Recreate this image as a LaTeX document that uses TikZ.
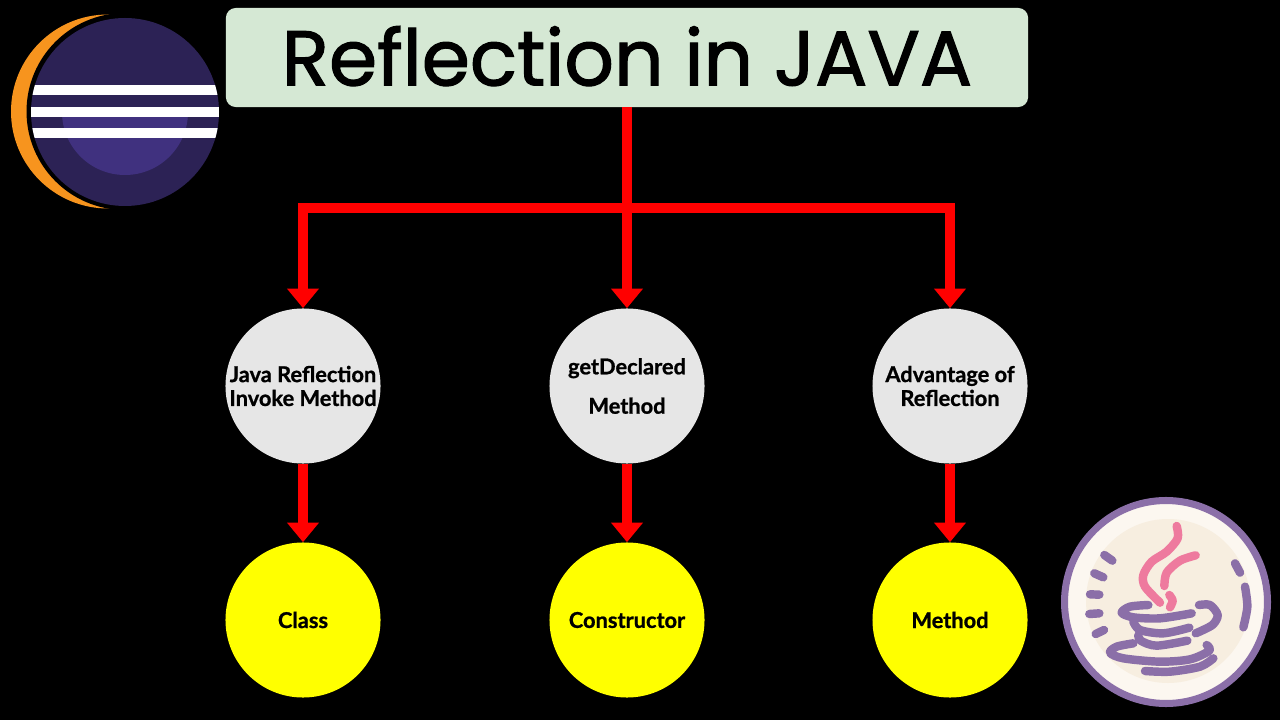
\documentclass[tikz,border=0pt]{standalone}
\usepackage{fontspec}
\setmainfont{Lato}[BoldFeatures={FakeBold=1}]
\newfontfamily\titlefont[FakeBold=1.5,Ligatures=NoCommon]{Poppins}
\usetikzlibrary{arrows.meta}
\definecolor{titlegreen}{HTML}{D5E8D4}
\definecolor{lightgrey}{HTML}{E6E6E6}
\definecolor{arrowred}{HTML}{FF0000}
\definecolor{leafyellow}{HTML}{FFFF00}
\definecolor{sunorange}{HTML}{F7941E}
\definecolor{planetdark}{HTML}{2C2255}
\definecolor{planetlight}{HTML}{40317F}
\definecolor{cupring}{HTML}{8B6FA8}
\definecolor{cupcream}{HTML}{FCF7F0}
\definecolor{cupinner}{HTML}{F7EEE0}
\definecolor{cuppink}{HTML}{EE7A9E}
\tikzset{
	x=0.025cm, y=-0.025cm,
	redline/.style={draw=arrowred, line width=7.5pt},
	redarrow/.style={redline, -{Triangle[length=14pt, width=22pt]}},
	topic/.style={circle, fill=lightgrey, minimum size=3.875cm, inner sep=0pt, align=center, font=\fontsize{15.5}{17}\selectfont\bfseries},
	leaf/.style={topic, fill=leafyellow},
	stroke/.style={line width=6pt, line cap=round, line join=round},
	cupline/.style={stroke, draw=cupring},
	steamline/.style={stroke, draw=cuppink},
}

\begin{document}
\begin{tikzpicture}
		%%%%% START %%%%%
		
		\useasboundingbox (0, 0) rectangle (1280, 720);
		\fill[black] (0, 0) rectangle (1280, 720);
		
		% nodes
		\node[fill=titlegreen, rounded corners=7pt, minimum width=20.05cm, minimum height=2.475cm, inner sep=0pt, font=\fontsize{55.2}{60}\selectfont\titlefont] (title) at (627, 57.5) {\raisebox{2.5pt}{Reflection in JAVA}};
		
		\node[topic] (invoke) at (303, 386) {Java Reflection\\Invoke Method};
		\node[topic] (declared) at (627, 386) {getDeclared\\[11pt]Method};
		\node[topic] (advantage) at (950, 386) {Advantage of\\Reflection};
		
		\node[leaf] (class) at (303, 620) {Class};
		\node[leaf] (constructor) at (627, 620) {Constructor};
		\node[leaf] (method) at (950, 620) {Method};
		
		% connectors
		\coordinate (hub) at (627, 208);
		\draw[redline] (title.south) -- (hub);
		\draw[redarrow] (hub) -| (invoke.north);
		\draw[redarrow] (hub) -- (declared.north);
		\draw[redarrow] (hub) -| (advantage.north);
		
		\draw[redarrow] (invoke) -- (class);
		\draw[redarrow] (declared) -- (constructor);
		\draw[redarrow] (advantage) -- (method);
		
		% eclipse logo
		\fill[sunorange] (108, 111.5) circle (97);
		\fill[black] (125, 111.5) circle (98.5);
		\fill[planetdark] (125, 112) circle (94);
		\begin{scope}
			\clip (0, 118) rectangle (240, 220);
			\fill[planetlight] (125, 112) circle (63);
		\end{scope}
		\begin{scope}
			\clip (125, 112) circle (94);
			\fill[white] (20, 85) rectangle (230, 95);
			\fill[white] (20, 107) rectangle (230, 117);
			\fill[white] (20, 128) rectangle (230, 138);
		\end{scope}
		
		% java logo
		\draw[cupring, line width=5pt, fill=cupcream] (1166, 602) circle (101.5);
		\fill[cupinner] (1168, 601) circle (82);
		\begin{scope}[shift={(1050, 490)}, x=0.025cm/3, y=-0.025cm/3]
			\draw[steamline] plot[smooth] coordinates {(380,108) (383,145) (350,185) (305,215) (280,255) (285,290) (330,338)};
			\draw[steamline] plot[smooth] coordinates {(437,196) (390,212) (350,248) (343,288)};
			\draw[steamline] plot[smooth] coordinates {(358,315) (368,332) (360,352)};
			
			\draw[cupline] (163,195) -- (187,212);
			\draw[cupline] (133,250) -- (160,262);
			\draw[cupline] (120,313) -- (148,314);
			\draw[cupline] (118,372) -- (148,370);
			\draw[cupline] (137,432) -- (162,420);
			\draw[cupline] (555,220) -- (570,248);
			\draw[cupline] plot[smooth] coordinates {(585,290) (592,350) (580,412)};
			
			\draw[cupline] plot[smooth] coordinates {(295,345) (240,350) (215,368) (250,382) (330,385) (425,370)};
			\draw[cupline] plot[smooth] coordinates {(250,395) (270,420) (340,430) (418,413)};
			\draw[cupline] plot[smooth] coordinates {(265,435) (272,452) (320,467) (412,452)};
			\draw[cupline] plot[smooth] coordinates {(447,345) (480,345) (503,375) (487,405) (437,430)};
			\draw[cupline] plot[smooth] coordinates {(250,460) (200,470) (180,488) (220,505) (330,515) (420,508) (478,482) (470,465)};
			\draw[cupline] plot[smooth] coordinates {(490,505) (450,530) (360,545) (285,543)};
		\end{scope}
		
		%%%%% END %%%%%
	\end{tikzpicture}
\end{document}
